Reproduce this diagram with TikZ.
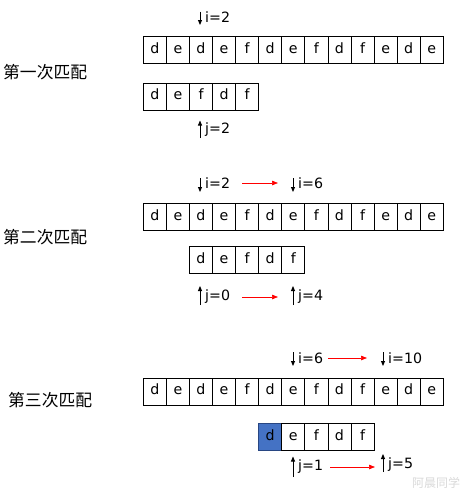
\documentclass[tikz,border=0pt]{standalone}
\usepackage{fontspec}
\setmainfont{DejaVu Sans}
\newfontfamily\cjk{Noto Sans CJK SC}
\usetikzlibrary{arrows.meta}
\definecolor{cellblue}{RGB}{68,114,196}
\definecolor{cellblueedge}{RGB}{40,70,130}
\begin{document}
\begin{tikzpicture}[x=1pt,y=-1pt,
  cell/.style={draw, line width=0.8pt, minimum width=23.08pt, minimum height=27pt,
    inner sep=0pt, outer sep=0pt, text height=10.3pt, text depth=3.4pt,
    font=\fontsize{14.2}{14}\selectfont},
  hilite/.style={fill=cellblue, draw=cellblueedge},
  ptr/.style={line width=0.9pt, -{Triangle[width=4pt,length=5pt]}},
  ptrlabel/.style={anchor=west, inner sep=0pt, font=\fontsize{14.2}{14}\selectfont},
  move/.style={red, line width=0.7pt, -{Triangle[width=4.5pt,length=6pt]}},
  rowtitle/.style={anchor=west, inner sep=0pt, font=\cjk\fontsize{16.8}{17}\selectfont},
  wmark/.style={anchor=west, inner sep=0pt, text=black!15, font=\cjk\fontsize{12}{12}\selectfont}]
\useasboundingbox (0,0) rectangle (474,493);

% ---------- row titles
\node[rowtitle] (t1) at (3,72.5) {第一次匹配};
\node[rowtitle] (t2) at (3,237) {第二次匹配};
\node[rowtitle] (t3) at (8,400) {第三次匹配};

% ---------- main strings
\foreach \c [count=\k from 0] in {d,e,d,e,f,d,e,f,d,f,e,d,e} {
  \node[cell] (sa\k) at (143.3+23.08*\k+11.54, 50) {\c};
  \node[cell] (sb\k) at (143.3+23.08*\k+11.54, 217) {\c};
  \node[cell] (sc\k) at (143.3+23.08*\k+11.54, 391.5) {\c};
}

% ---------- patterns
\foreach \c [count=\k from 0] in {d,e,f,d,f} {
  \node[cell] (pa\k) at (143.3+23.08*\k+11.54, 96.5) {\c};
  \node[cell] (pb\k) at (143.3+23.08*\k+23.08*2+11.54, 260) {\c};
}
\node[cell, hilite] (pc0) at (143.3+23.08*5+11.54, 437) {d};
\foreach \c [count=\k from 1] in {e,f,d,f} {
  \node[cell] (pc\k) at (143.3+23.08*\k+23.08*5+11.54, 437) {\c};
}

% ---------- first match pointers
\coordinate (ai2t) at (200,11.5); \coordinate (ai2b) at (200,25);
\draw[ptr] (ai2t) -- (ai2b);
\node[ptrlabel] (ai2) at (205,17) {i=2};
\coordinate (aj2b) at (200,138); \coordinate (aj2t) at (200,120.5);
\draw[ptr] (aj2b) -- (aj2t);
\node[ptrlabel] (aj2) at (205,130) {j=2};

% ---------- second match pointers
\coordinate (bi2t) at (200,178); \coordinate (bi2b) at (200,192);
\draw[ptr] (bi2t) -- (bi2b);
\node[ptrlabel] (bi2) at (205,183.5) {i=2};
\coordinate (bi6t) at (293,178); \coordinate (bi6b) at (293,192);
\draw[ptr] (bi6t) -- (bi6b);
\node[ptrlabel] (bi6) at (298,183.5) {i=6};
\coordinate (bma) at (242,183); \coordinate (bmb) at (278,183);
\draw[move] (bma) -- (bmb);

\coordinate (bj0b) at (200,305); \coordinate (bj0t) at (200,286);
\draw[ptr] (bj0b) -- (bj0t);
\node[ptrlabel] (bj0) at (205,297) {j=0};
\coordinate (bj4b) at (293,305); \coordinate (bj4t) at (293,286);
\draw[ptr] (bj4b) -- (bj4t);
\node[ptrlabel] (bj4) at (298,297) {j=4};
\coordinate (bna) at (242,297); \coordinate (bnb) at (278,297);
\draw[move] (bna) -- (bnb);

% ---------- third match pointers
\coordinate (ci6t) at (293,352); \coordinate (ci6b) at (293,366);
\draw[ptr] (ci6t) -- (ci6b);
\node[ptrlabel] (ci6) at (298,358) {i=6};
\coordinate (ci10t) at (383,352); \coordinate (ci10b) at (383,366);
\draw[ptr] (ci10t) -- (ci10b);
\node[ptrlabel] (ci10) at (388,358) {i=10};
\coordinate (cma) at (328,358); \coordinate (cmb) at (367,358);
\draw[move] (cma) -- (cmb);

\coordinate (cj1b) at (293,477); \coordinate (cj1t) at (293,456.5);
\draw[ptr] (cj1b) -- (cj1t);
\node[ptrlabel] (cj1) at (298,467) {j=1};
\coordinate (cj5b) at (383,472); \coordinate (cj5t) at (383,454);
\draw[ptr] (cj5b) -- (cj5t);
\node[ptrlabel] (cj5) at (388,465) {j=5};
\coordinate (cna) at (330,467); \coordinate (cnb) at (375,467);
\draw[move] (cna) -- (cnb);

% ---------- watermark
\node[wmark] (wm) at (412,483) {阿晨同学};
\end{tikzpicture}
\end{document}
